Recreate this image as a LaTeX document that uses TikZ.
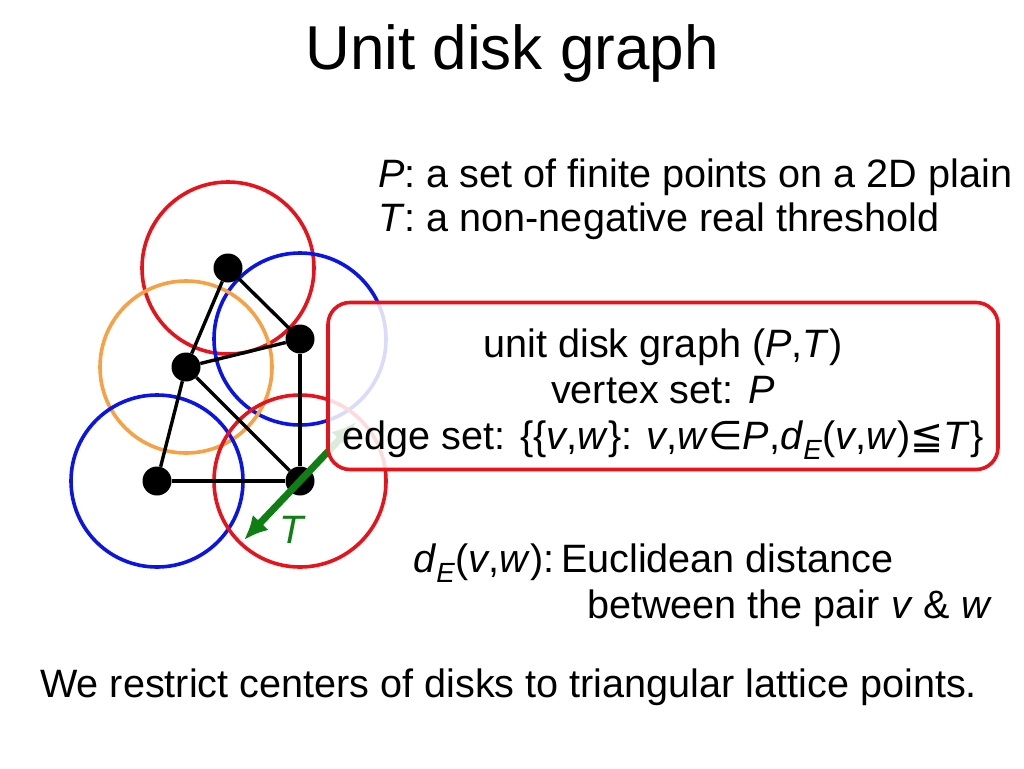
\documentclass[tikz,border=0pt]{standalone}
\usepackage{fontspec}
\setmainfont{Liberation Sans}
\newfontfamily\symfont{DejaVu Sans}
\usetikzlibrary{arrows.meta, calc}
\definecolor{dred}{HTML}{E8121A}
\definecolor{dblue}{HTML}{0A14E6}
\definecolor{dorange}{HTML}{F7A044}
\definecolor{dgreen}{HTML}{0F7F14}
\tikzset{
  disk/.style={circle, draw=#1, line width=3.6pt, minimum size=172pt, inner sep=0pt},
  vtx/.style={circle, fill=black, minimum size=29pt, inner sep=0pt},
  link/.style={line width=3.4pt, draw=black},
  txt/.style={anchor=base west, inner sep=0pt, font=\fontsize{39.6}{46}\selectfont},
  defbox/.style={
    draw=dred, line width=3.6pt, rounded corners=22pt,
    fill=white, fill opacity=0.85,
    minimum width=670pt, minimum height=167pt
  },
  boxtxt/.style={align=center, inner sep=0pt, font=\fontsize{39.6}{46}\selectfont},
  tarrow/.style={{Latex[length=24pt,width=22pt]}-{Latex[length=24pt,width=22pt]},
    line width=7pt, draw=dgreen}
}

\begin{document}
\begin{tikzpicture}[x=1pt,y=-1pt]
  \useasboundingbox (0,0) rectangle (1024,768);
  \node[font=\fontsize{62}{72}\selectfont, anchor=base] (title) at (512,70) {Unit disk graph};
  % disks of radius T around the points
  \node[disk=dred] (ca) at (228,268) {};
  \node[disk=dblue] (cb) at (300,339) {};
  \node[disk=dorange] (cc) at (186,367) {};
  \node[disk=dblue] (cd) at (157,481) {};
  \node[disk=dred] (ce) at (300,481) {};
  \node[vtx] (a) at (ca) {};
  \node[vtx] (b) at (cb) {};
  \node[vtx] (c) at (cc) {};
  \node[vtx] (d) at (cd) {};
  \node[vtx] (e) at (ce) {};
  \draw[link] (a) -- (b);
  \draw[link] (a) -- (c);
  \draw[link] (c) -- (b);
  \draw[link] (c) -- (d);
  \draw[link] (c) -- (e);
  \draw[link] (d) -- (e);
  \draw[link] (b) -- (e);
  % threshold arrow
  \coordinate (t1) at ($(e)+(-56,59)$);
  \coordinate (t2) at ($(e)+(56,-59)$);
  \draw[tarrow] (t1) -- (t2);
  \node[font=\fontsize{39.6}{46}\selectfont, text=dgreen] (tlab) at (293,530) {\textit{T}};
  \node[txt] (pdef) at (378,187) {\textit{P}: a set of finite points on a 2D plain};
  \node[txt] (tdef) at (378,231) {\textit{T}: a non-negative real threshold};
  \node[defbox] (udg) at (663,386) {};
  \node[boxtxt] (udgtxt) at (663,394) {unit disk graph (\textit{P},\textit{T})\\
    vertex set: \textit{P}\\
    edge set: \{\{\textit{v},\textit{w}\}: \textit{v},\textit{w}{\symfont ∈}\textit{P},\textit{d}\textsubscript{\textit{E}}(\textit{v},\textit{w}){\symfont ≦}\textit{T}\}};
  \node[txt] (ddef) at (413,572) {\textit{d}\textsubscript{\textit{E}}(\textit{v},\textit{w}):\,Euclidean distance};
  \node[txt] (ddef2) at (587,618) {between the pair \textit{v} \& \textit{w}};
  \node[txt] (note) at (40,697) {We restrict centers of disks to triangular lattice points.};
\end{tikzpicture}
\end{document}
